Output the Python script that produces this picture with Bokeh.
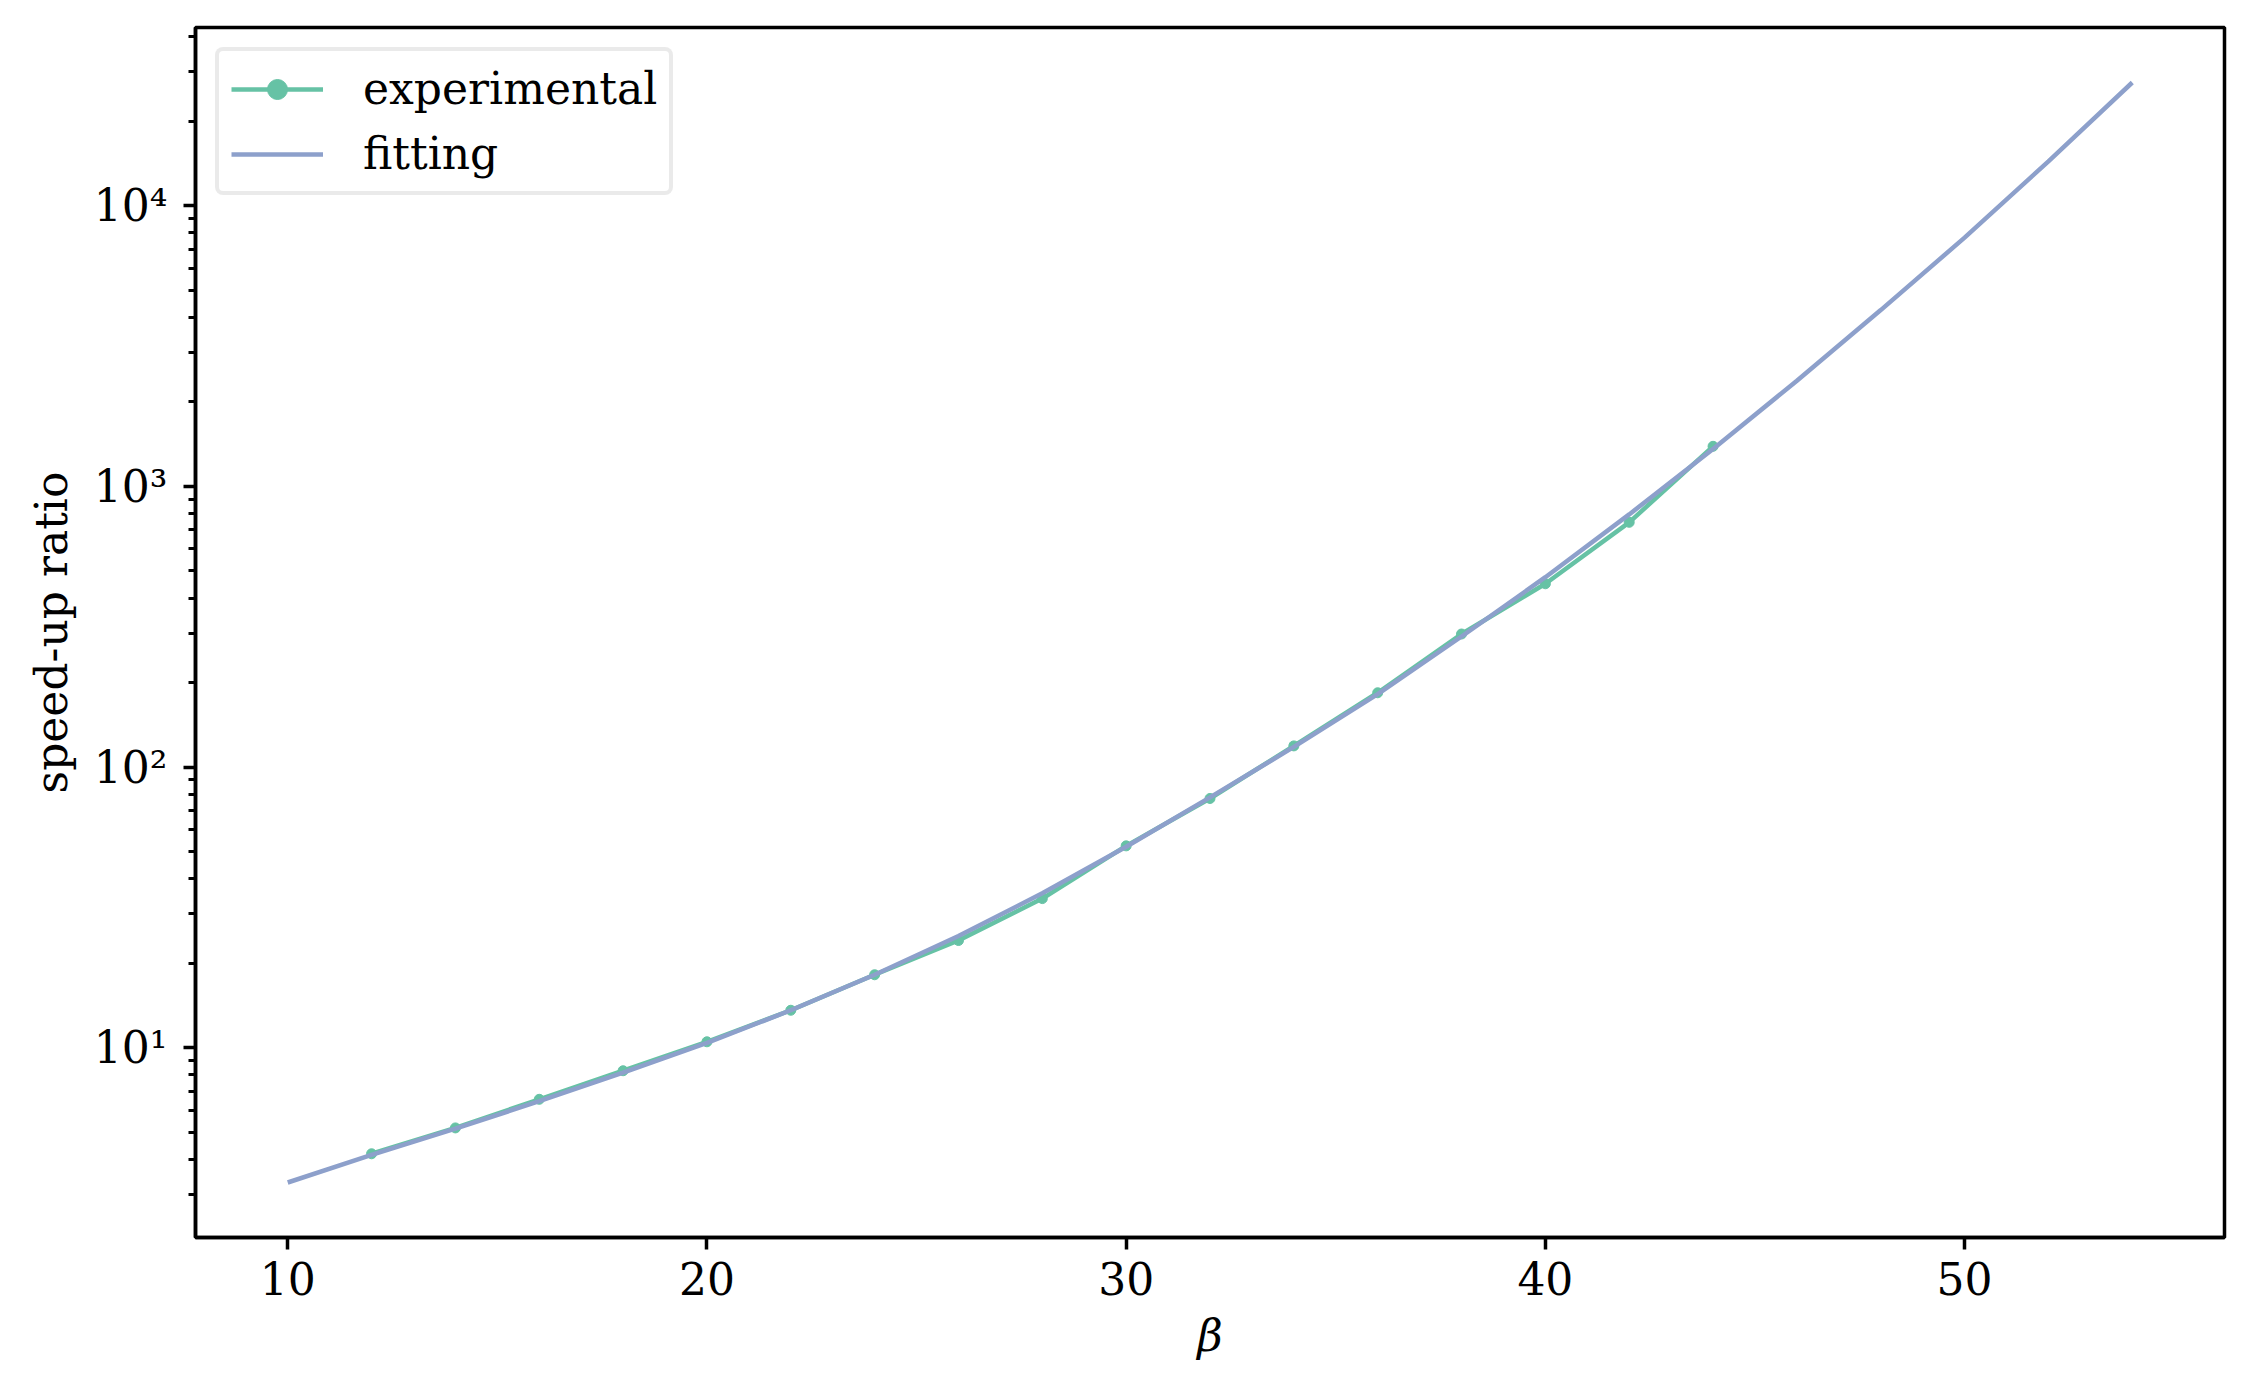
from bokeh.plotting import figure
from bokeh.models import Range1d, FixedTicker, LogTicker, Legend, LegendItem
from bokeh.embed import file_html
from bokeh.resources import INLINE
import math

# experimental measurements
beta_exp = [12, 14, 16, 18, 20, 22, 24, 26, 28, 30, 32, 34, 36, 38, 40, 42, 44]
speedup_exp = [4.19, 5.18, 6.55, 8.28, 10.5, 13.6, 18.2, 24.1, 34.0, 52.4, 77.3,
               119, 184, 298, 450, 745, 1390]

# fitted curve
beta_fit = [10, 12, 14, 16, 18, 20, 22, 24, 26, 28, 30, 32, 34, 36, 38, 40, 42,
            44, 46, 48, 50, 52, 54]
speedup_fit = [3.31, 4.15, 5.15, 6.45, 8.15, 10.4, 13.6, 18.2, 25.0, 35.5, 52,
               78, 118, 182, 292, 475, 795, 1360, 2380, 4250, 7700, 14400, 27500]

x_ticks = [10, 20, 30, 40, 50]
y_tick_labels = {10: "10\u00b9", 100: "10\u00b2", 1000: "10\u00b3", 10000: "10\u2074"}

GREEN = "#66c2a5"
BLUE = "#8da0cb"
FONT = "DejaVu Serif"
FS = "44px"

# matplotlib-like 5% margins
xmin, xmax = min(beta_fit), max(beta_fit)
xpad = 0.05 * (xmax - xmin)
ly0 = math.log10(min(speedup_fit))
ly1 = math.log10(max(speedup_fit))
lpad = 0.05 * (ly1 - ly0)

p = figure(width=2234, height=1373, output_backend="svg", toolbar_location=None,
           y_axis_type="log",
           x_range=Range1d(xmin - xpad, xmax + xpad),
           y_range=Range1d(10 ** (ly0 - lpad), 10 ** (ly1 + lpad)),
           min_border_left=195, min_border_right=10, min_border_top=27,
           min_border_bottom=136)
p.background_fill_color = "white"
p.border_fill_color = "white"
p.grid.visible = False
p.outline_line_color = "black"
p.outline_line_width = 3.5

r_exp_line = p.line(beta_exp, speedup_exp, line_color=GREEN, line_width=4.5)
r_exp_pts = p.scatter(beta_exp, speedup_exp, size=10, fill_color=GREEN,
                      line_color=GREEN)
r_fit = p.line(beta_fit, speedup_fit, line_color=BLUE, line_width=4.5)

xa = p.xaxis[0]
xa.ticker = FixedTicker(ticks=x_ticks)
xa.axis_label = "\u03b2"
ya = p.yaxis[0]
ya.ticker = LogTicker(desired_num_ticks=6, num_minor_ticks=10)
ya.major_label_overrides = y_tick_labels
ya.axis_label = "speed-up ratio"

for ax in (xa, ya):
    ax.axis_line_width = 3.5
    ax.axis_line_color = "black"
    ax.major_tick_line_width = 3.5
    ax.minor_tick_line_width = 3
    ax.major_tick_out = 12
    ax.major_tick_in = 0
    ax.minor_tick_in = 0
    ax.major_label_text_font = FONT
    ax.major_label_text_font_size = FS
    ax.major_label_text_color = "black"
    ax.axis_label_text_font = FONT
    ax.axis_label_text_font_size = FS
    ax.axis_label_text_color = "black"

xa.minor_tick_out = 0
xa.major_label_standoff = 12
xa.axis_label_standoff = 12
xa.axis_label_text_font_style = "italic"
ya.minor_tick_out = 7
ya.major_label_standoff = 16
ya.axis_label_standoff = 14
ya.axis_label_text_font_style = "normal"

legend = Legend(items=[
    LegendItem(label="experimental", renderers=[r_exp_line, r_exp_pts]),
    LegendItem(label="fitting", renderers=[r_fit]),
], location="top_left")
legend.margin = 20
legend.padding = 12
legend.spacing = 14
legend.glyph_width = 92
legend.glyph_height = 50
legend.label_height = 50
legend.label_standoff = 40
legend.label_text_font = FONT
legend.label_text_font_size = FS
legend.label_text_color = "black"
legend.border_line_color = "#d5d5d5"
legend.border_line_width = 4
legend.border_radius = 8
legend.background_fill_color = "white"
legend.background_fill_alpha = 0.8
p.add_layout(legend, "center")

open("out.html", "w").write(file_html(p, INLINE))
